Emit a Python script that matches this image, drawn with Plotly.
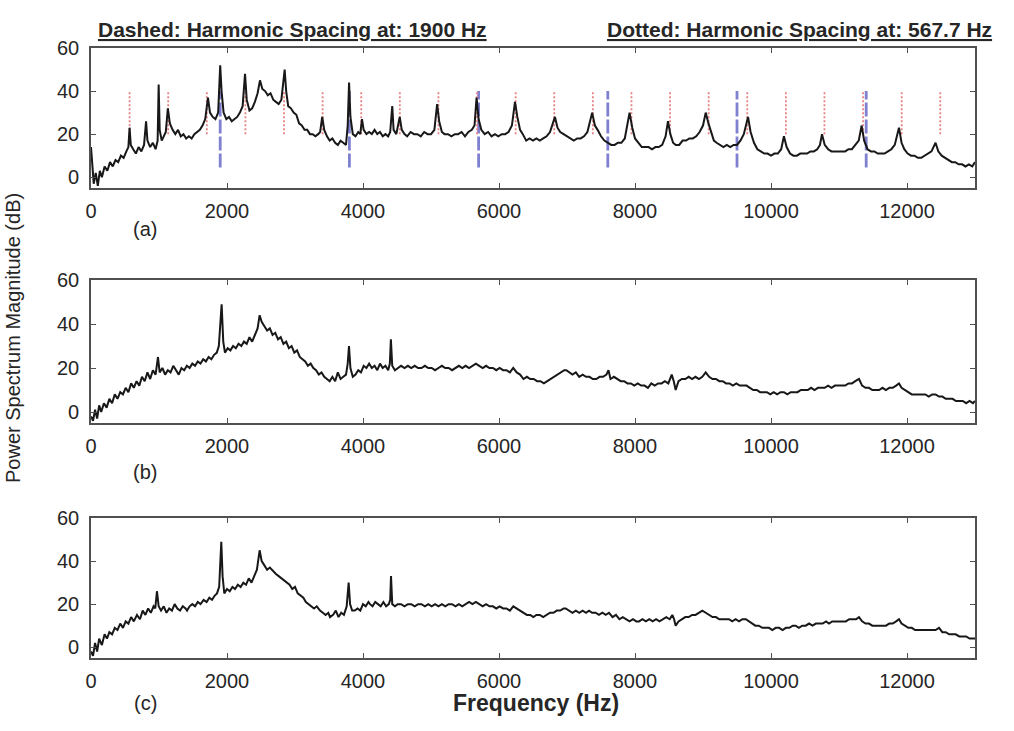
import plotly.graph_objects as go

# ---------------- data ----------------
x_ticks = [0, 2000, 4000, 6000, 8000, 10000, 12000]
y_ticks = [0, 20, 40, 60]
panel_labels = ["(a)", "(b)", "(c)"]
dashed_spacing_hz = 1900
dotted_spacing_hz = 567.7
dashed_harmonics = [1900, 3800, 5700, 7600, 9500, 11400]
dotted_harmonics = [567.7, 1135.4, 1703.1, 2270.8, 2838.5, 3406.2, 3973.9, 4541.6,
                    5109.3, 5677.0, 6244.7, 6812.4, 7380.1, 7947.8, 8515.5, 9083.2,
                    9650.9, 10218.6, 10786.3, 11354.0, 11921.7, 12489.4]
dashed_span_db = [4.5, 40]
dotted_span_db = [20, 40]

spectrum_a = [
    (0, 14), (20, 6), (40, -3), (70, 2), (100, -4), (130, 3), (160, 0), (200, 5), (240, 3), (280, 7),
    (320, 5), (360, 8), (400, 7), (440, 10), (480, 9), (520, 12), (550, 14), (567, 23), (585, 15), (620, 13),
    (660, 11), (700, 14), (740, 12), (780, 15), (810, 26), (830, 17), (870, 14), (910, 16), (950, 13), (980, 17),
    (995, 43), (1010, 22), (1040, 17), (1070, 19), (1100, 21), (1130, 32), (1160, 25), (1200, 22), (1240, 20), (1280, 22),
    (1320, 19), (1360, 20), (1400, 18), (1440, 19), (1480, 18), (1520, 20), (1560, 21), (1600, 22), (1640, 24), (1680, 27),
    (1720, 37), (1750, 30), (1790, 28), (1830, 27), (1870, 30), (1900, 52), (1920, 40), (1950, 30), (1990, 27), (2030, 28),
    (2070, 26), (2110, 27), (2150, 28), (2190, 30), (2230, 33), (2265, 48), (2290, 36), (2330, 31), (2370, 32), (2410, 35),
    (2450, 39), (2485, 45), (2520, 41), (2560, 40), (2600, 38), (2640, 39), (2680, 36), (2720, 35), (2760, 34), (2800, 36),
    (2848, 50), (2870, 40), (2900, 33), (2940, 32), (2980, 30), (3020, 29), (3060, 25), (3100, 24), (3140, 22), (3180, 22),
    (3220, 20), (3260, 20), (3300, 19), (3340, 20), (3370, 21), (3400, 28), (3430, 22), (3470, 19), (3510, 17), (3550, 18),
    (3590, 16), (3630, 15), (3670, 17), (3710, 16), (3750, 15), (3775, 24), (3795, 44), (3815, 28), (3850, 20), (3890, 19),
    (3930, 21), (3960, 20), (3985, 27), (4010, 22), (4050, 20), (4090, 21), (4130, 20), (4170, 22), (4210, 20), (4250, 21),
    (4290, 19), (4330, 20), (4370, 19), (4400, 21), (4430, 33), (4450, 22), (4490, 20), (4540, 28), (4570, 22), (4610, 20),
    (4650, 19), (4700, 21), (4750, 20), (4800, 20), (4850, 19), (4900, 21), (4950, 20), (5000, 20), (5050, 22), (5090, 34),
    (5120, 26), (5160, 21), (5200, 20), (5250, 20), (5300, 19), (5350, 20), (5400, 20), (5450, 21), (5500, 19), (5550, 21),
    (5600, 22), (5640, 24), (5670, 37), (5700, 27), (5740, 22), (5790, 20), (5840, 21), (5890, 19), (5940, 20), (5990, 19),
    (6040, 20), (6090, 20), (6140, 21), (6190, 24), (6235, 35), (6270, 28), (6310, 22), (6350, 20), (6400, 17), (6450, 18),
    (6500, 17), (6550, 18), (6600, 17), (6650, 18), (6700, 19), (6750, 21), (6823, 28), (6860, 23), (6900, 21), (6950, 20),
    (7000, 19), (7050, 18), (7100, 17), (7150, 18), (7200, 18), (7250, 19), (7300, 21), (7370, 30), (7410, 24), (7450, 22),
    (7500, 19), (7550, 17), (7600, 16), (7650, 15), (7700, 15), (7750, 16), (7800, 16), (7850, 18), (7920, 30), (7960, 23),
    (8000, 18), (8050, 16), (8100, 14), (8150, 14), (8200, 14), (8250, 13), (8300, 14), (8350, 14), (8400, 15), (8450, 19),
    (8485, 26), (8520, 20), (8560, 16), (8600, 15), (8650, 15), (8700, 17), (8750, 17), (8800, 18), (8850, 18), (8900, 19),
    (8950, 21), (9000, 24), (9040, 30), (9080, 25), (9120, 21), (9160, 17), (9200, 16), (9250, 15), (9300, 14), (9350, 15),
    (9400, 14), (9450, 15), (9500, 15), (9550, 17), (9600, 20), (9662, 28), (9700, 21), (9750, 16), (9800, 13), (9850, 12),
    (9900, 11), (9950, 11), (10000, 10), (10050, 11), (10100, 11), (10150, 13), (10190, 19), (10230, 14), (10280, 11), (10330, 10),
    (10380, 10), (10430, 11), (10480, 11), (10530, 11), (10580, 12), (10630, 12), (10680, 13), (10720, 15), (10750, 20), (10790, 15),
    (10840, 13), (10890, 12), (10940, 12), (10990, 12), (11040, 12), (11090, 12), (11140, 13), (11190, 13), (11240, 15), (11290, 17),
    (11333, 24), (11370, 17), (11420, 13), (11470, 12), (11520, 12), (11570, 11), (11620, 11), (11670, 11), (11720, 12), (11770, 13),
    (11820, 15), (11882, 23), (11920, 16), (11960, 13), (12010, 11), (12060, 10), (12110, 10), (12160, 9), (12210, 9), (12260, 10),
    (12310, 11), (12360, 12), (12420, 16), (12460, 12), (12510, 10), (12560, 9), (12610, 8), (12660, 7), (12710, 7), (12760, 6),
    (12810, 6), (12860, 5), (12910, 6), (12960, 5), (13000, 7),
]

spectrum_b = [
    (0, -2), (30, -4), (60, 1), (90, -3), (120, 3), (150, 0), (190, 4), (230, 2), (270, 6), (310, 4),
    (350, 8), (390, 6), (430, 9), (470, 8), (510, 11), (550, 9), (590, 13), (630, 11), (670, 14), (710, 12),
    (750, 16), (790, 14), (830, 18), (870, 15), (910, 19), (950, 17), (985, 25), (1010, 18), (1050, 20), (1090, 17),
    (1130, 19), (1170, 18), (1210, 21), (1250, 19), (1290, 17), (1330, 20), (1370, 19), (1410, 21), (1450, 20), (1490, 22),
    (1530, 21), (1570, 23), (1610, 22), (1650, 24), (1690, 23), (1730, 25), (1770, 24), (1810, 26), (1850, 27), (1880, 30),
    (1921, 49), (1945, 32), (1970, 27), (2010, 29), (2050, 28), (2090, 30), (2130, 29), (2170, 31), (2210, 30), (2250, 32),
    (2290, 31), (2330, 34), (2370, 32), (2410, 35), (2450, 38), (2480, 44), (2510, 41), (2550, 39), (2590, 37), (2630, 38),
    (2670, 35), (2710, 36), (2750, 33), (2790, 34), (2830, 31), (2870, 32), (2910, 29), (2950, 30), (2990, 27), (3030, 28),
    (3070, 25), (3110, 24), (3150, 23), (3190, 21), (3230, 22), (3270, 20), (3310, 19), (3350, 17), (3390, 18), (3430, 16),
    (3470, 15), (3510, 14), (3550, 16), (3590, 14), (3630, 18), (3670, 15), (3710, 16), (3750, 17), (3775, 22), (3794, 30),
    (3815, 20), (3850, 16), (3890, 17), (3930, 19), (3970, 18), (4010, 21), (4050, 20), (4090, 22), (4130, 20), (4170, 21),
    (4210, 19), (4250, 22), (4290, 20), (4330, 21), (4370, 19), (4395, 22), (4410, 33), (4430, 21), (4470, 19), (4510, 20),
    (4560, 21), (4610, 20), (4660, 21), (4710, 20), (4760, 21), (4810, 20), (4860, 20), (4910, 21), (4960, 20), (5010, 20),
    (5060, 19), (5110, 20), (5160, 21), (5210, 20), (5260, 20), (5310, 19), (5360, 20), (5410, 21), (5460, 20), (5510, 21),
    (5560, 20), (5610, 21), (5660, 22), (5710, 21), (5760, 20), (5810, 21), (5860, 20), (5910, 20), (5960, 19), (6010, 20),
    (6060, 19), (6110, 19), (6160, 18), (6210, 20), (6260, 18), (6310, 17), (6360, 15), (6410, 16), (6460, 15), (6510, 15),
    (6560, 14), (6610, 14), (6660, 13), (6710, 14), (6760, 15), (6810, 16), (6860, 17), (6910, 18), (6960, 19), (6990, 19),
    (7030, 18), (7080, 17), (7130, 18), (7180, 16), (7230, 17), (7280, 16), (7330, 16), (7380, 15), (7430, 15), (7480, 16),
    (7530, 16), (7580, 17), (7610, 19), (7640, 15), (7690, 16), (7740, 15), (7790, 14), (7840, 14), (7890, 13), (7940, 13),
    (7990, 12), (8040, 13), (8090, 12), (8140, 12), (8190, 11), (8240, 13), (8290, 12), (8340, 13), (8390, 13), (8440, 14),
    (8490, 13), (8540, 17), (8570, 14), (8598, 10), (8640, 14), (8690, 15), (8740, 15), (8790, 16), (8840, 15), (8890, 16),
    (8940, 15), (8990, 16), (9040, 18), (9090, 16), (9140, 15), (9190, 15), (9240, 14), (9290, 14), (9340, 13), (9390, 13),
    (9440, 12), (9490, 13), (9540, 12), (9590, 12), (9640, 12), (9690, 11), (9740, 10), (9790, 10), (9840, 9), (9890, 9),
    (9940, 9), (9990, 8), (10040, 9), (10090, 8), (10140, 9), (10190, 9), (10240, 8), (10290, 9), (10340, 9), (10390, 9),
    (10440, 10), (10490, 10), (10540, 10), (10590, 11), (10640, 10), (10690, 11), (10740, 11), (10790, 11), (10840, 12), (10890, 11),
    (10940, 12), (10990, 12), (11040, 12), (11090, 12), (11140, 13), (11190, 13), (11240, 14), (11294, 15), (11340, 12), (11390, 11),
    (11440, 11), (11490, 10), (11540, 10), (11590, 10), (11640, 11), (11690, 10), (11740, 11), (11790, 11), (11840, 12), (11882, 13),
    (11920, 11), (11970, 10), (12020, 9), (12070, 8), (12120, 8), (12170, 8), (12220, 8), (12270, 8), (12320, 7), (12370, 8),
    (12420, 8), (12470, 7), (12520, 7), (12570, 6), (12620, 6), (12670, 6), (12720, 5), (12770, 5), (12820, 5), (12870, 4),
    (12920, 5), (12970, 4), (13000, 5),
]

spectrum_c = [
    (0, -2), (30, -4), (60, 2), (90, -2), (120, 4), (160, 1), (200, 6), (235, 4), (270, 7), (310, 6),
    (350, 9), (390, 8), (430, 11), (470, 9), (510, 12), (550, 11), (590, 14), (630, 12), (676, 15), (720, 13),
    (760, 17), (800, 15), (840, 18), (880, 16), (920, 19), (945, 18), (970, 26), (995, 19), (1030, 17), (1070, 19),
    (1110, 16), (1150, 18), (1190, 17), (1230, 20), (1270, 18), (1310, 17), (1350, 19), (1390, 18), (1412, 17), (1450, 19),
    (1490, 20), (1530, 19), (1570, 21), (1610, 20), (1657, 22), (1700, 21), (1740, 23), (1780, 22), (1820, 24), (1853, 25),
    (1885, 28), (1916, 49), (1935, 33), (1960, 25), (2000, 27), (2040, 26), (2080, 28), (2118, 27), (2160, 29), (2200, 28),
    (2240, 30), (2280, 29), (2320, 32), (2360, 30), (2400, 33), (2440, 36), (2480, 45), (2510, 40), (2550, 38), (2590, 36),
    (2630, 37), (2681, 35), (2720, 34), (2760, 33), (2800, 32), (2840, 31), (2877, 30), (2920, 29), (2960, 27), (3000, 28),
    (3040, 25), (3080, 24), (3123, 23), (3160, 21), (3200, 20), (3240, 19), (3280, 18), (3320, 19), (3368, 17), (3410, 16),
    (3450, 15), (3490, 16), (3515, 14), (3560, 15), (3600, 17), (3640, 14), (3680, 16), (3720, 15), (3760, 19), (3789, 30),
    (3810, 20), (3840, 17), (3880, 17), (3920, 18), (3960, 17), (4000, 20), (4040, 19), (4080, 21), (4103, 20), (4140, 19),
    (4180, 21), (4220, 20), (4260, 19), (4300, 21), (4340, 19), (4380, 20), (4400, 22), (4412, 33), (4430, 20), (4470, 19),
    (4510, 20), (4560, 20), (4610, 19), (4660, 20), (4710, 20), (4760, 19), (4810, 20), (4860, 20), (4910, 19), (4960, 20),
    (5010, 19), (5060, 20), (5110, 19), (5160, 20), (5210, 19), (5260, 20), (5310, 20), (5360, 19), (5410, 20), (5460, 19),
    (5510, 20), (5560, 21), (5610, 20), (5660, 21), (5710, 20), (5760, 19), (5810, 20), (5860, 19), (5910, 19), (5960, 18),
    (6010, 19), (6060, 18), (6110, 18), (6160, 17), (6210, 19), (6260, 18), (6309, 17), (6360, 16), (6410, 15), (6460, 15),
    (6505, 14), (6550, 15), (6600, 15), (6650, 14), (6700, 15), (6750, 16), (6800, 16), (6850, 17), (6900, 17), (6950, 18),
    (6981, 18), (7030, 17), (7080, 16), (7130, 17), (7180, 16), (7230, 17), (7280, 16), (7324, 17), (7370, 16), (7420, 16),
    (7470, 15), (7520, 16), (7570, 15), (7618, 16), (7670, 14), (7720, 15), (7770, 13), (7820, 14), (7870, 13), (7920, 12),
    (7970, 13), (8020, 12), (8059, 12), (8110, 13), (8160, 12), (8210, 13), (8260, 12), (8310, 13), (8360, 12), (8410, 13),
    (8460, 14), (8510, 13), (8549, 15), (8575, 13), (8598, 10), (8640, 12), (8690, 13), (8740, 14), (8790, 14), (8840, 15),
    (8890, 15), (8940, 16), (8990, 17), (9040, 16), (9090, 15), (9140, 14), (9190, 14), (9240, 13), (9290, 13), (9340, 13),
    (9382, 13), (9430, 12), (9480, 13), (9530, 12), (9580, 13), (9630, 13), (9676, 12), (9720, 11), (9770, 10), (9820, 10),
    (9872, 9), (9920, 9), (9970, 9), (10020, 8), (10070, 9), (10120, 9), (10170, 8), (10220, 9), (10270, 9), (10320, 10),
    (10363, 10), (10410, 9), (10460, 10), (10510, 10), (10560, 11), (10610, 10), (10660, 11), (10710, 11), (10760, 11), (10810, 12),
    (10853, 11), (10900, 12), (10950, 12), (11000, 12), (11050, 12), (11100, 12), (11150, 13), (11200, 13), (11250, 13), (11294, 14),
    (11340, 12), (11390, 11), (11440, 11), (11490, 10), (11540, 10), (11588, 10), (11640, 10), (11690, 10), (11740, 11), (11790, 11),
    (11840, 12), (11882, 13), (11920, 11), (11970, 10), (12020, 9), (12070, 9), (12120, 8), (12176, 8), (12220, 8), (12270, 8),
    (12320, 8), (12370, 8), (12420, 8), (12471, 9), (12520, 7), (12570, 7), (12620, 6), (12670, 6), (12716, 6), (12770, 5),
    (12820, 5), (12870, 5), (12920, 4), (12970, 4), (13000, 4),
]

# ---------------- figure ----------------
W, H = 1014, 731
L, R, T, B = 91, 39, 48, 73
plot_h = H - T - B

def px_to_paper_y(py):
    return (H - B - py) / plot_h

def px_to_paper_x(px):
    return (px - L) / (W - L - R)

domains = [
    [px_to_paper_y(188), 1.0],
    [px_to_paper_y(423), px_to_paper_y(280)],
    [0.0, px_to_paper_y(518)],
]

FONT = "Liberation Sans, Arial, sans-serif"
INK = "#262626"

fig = go.Figure()

def vlines(xs, span):
    xx, yy = [], []
    for x in xs:
        xx += [x, x, None]
        yy += [span[0], span[1], None]
    return xx, yy

# harmonic markers (panel a), drawn beneath the spectrum
bx, by = vlines(dashed_harmonics, dashed_span_db)
fig.add_trace(go.Scatter(x=bx, y=by, mode="lines", xaxis="x", yaxis="y",
                         line=dict(color="#8080d0", width=2.8, dash="14px,3px"),
                         hoverinfo="skip", showlegend=False))
rx, ry = vlines(dotted_harmonics, dotted_span_db)
fig.add_trace(go.Scatter(x=rx, y=ry, mode="lines", xaxis="x", yaxis="y",
                         line=dict(color="#e88080", width=1.8, dash="2px,2px"),
                         hoverinfo="skip", showlegend=False))

for i, spec in enumerate([spectrum_a, spectrum_b, spectrum_c]):
    f = [p[0] for p in spec]
    v = [p[1] for p in spec]
    ax = "" if i == 0 else str(i + 1)
    fig.add_trace(go.Scatter(x=f, y=v, mode="lines", xaxis="x" + ax, yaxis="y" + ax,
                             line=dict(color="#181818", width=2.0),
                             hoverinfo="skip", showlegend=False))

axis_common = dict(showgrid=False, zeroline=False, showline=True, mirror="allticks",
                   linecolor="#505050", linewidth=1.6, ticks="inside", ticklen=5,
                   tickcolor="#505050", tickwidth=1.2,
                   tickfont=dict(family=FONT, size=20, color=INK))

layout = dict(width=W, height=H, margin=dict(l=L, r=R, t=T, b=B),
              paper_bgcolor="white", plot_bgcolor="white", showlegend=False)
for i in range(3):
    ax = "" if i == 0 else str(i + 1)
    layout["xaxis" + ax] = dict(axis_common, range=[0, 13000], tickvals=x_ticks,
                                ticktext=[str(t) for t in x_ticks],
                                domain=[0, 1], anchor="y" + ax, ticklabelstandoff=4)
    layout["yaxis" + ax] = dict(axis_common, range=[-5, 60], tickvals=y_ticks,
                                domain=domains[i], anchor="x" + ax, ticklabelstandoff=6)
fig.update_layout(**layout)

ann = []
ann.append(dict(text="<b><u>Dashed: Harmonic Spacing at: %d Hz</u></b>" % dashed_spacing_hz,
                x=px_to_paper_x(96), y=px_to_paper_y(30), xref="paper", yref="paper",
                xanchor="left", yanchor="middle", showarrow=False,
                font=dict(family=FONT, size=21, color=INK)))
ann.append(dict(text="<b><u>Dotted: Harmonic Spacing at: %.1f Hz</u></b>" % dotted_spacing_hz,
                x=px_to_paper_x(994), y=px_to_paper_y(30), xref="paper", yref="paper",
                xanchor="right", yanchor="middle", showarrow=False,
                font=dict(family=FONT, size=21, color=INK)))
for lab, py in zip(panel_labels, [229, 472, 703]):
    ann.append(dict(text=lab, x=px_to_paper_x(145), y=px_to_paper_y(py), xref="paper", yref="paper",
                    xanchor="center", yanchor="middle", showarrow=False,
                    font=dict(family=FONT, size=20, color=INK)))
ann.append(dict(text="<b>Frequency (Hz)</b>", x=px_to_paper_x(536), y=px_to_paper_y(703),
                xref="paper", yref="paper", xanchor="center", yanchor="middle", showarrow=False,
                font=dict(family=FONT, size=23, color=INK)))
ann.append(dict(text="Power Spectrum Magnitude (dB)", x=px_to_paper_x(13), y=px_to_paper_y(338),
                xref="paper", yref="paper", xanchor="center", yanchor="middle", showarrow=False,
                textangle=-90, font=dict(family=FONT, size=20, color=INK)))
fig.update_layout(annotations=ann)

fig.write_html("out.html")
